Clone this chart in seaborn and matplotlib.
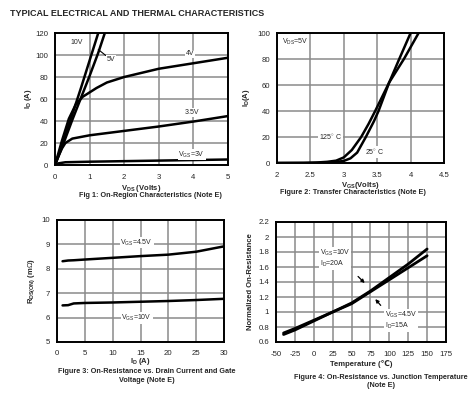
import matplotlib
matplotlib.use("Agg")
import matplotlib.pyplot as plt
import seaborn as sns

sns.set_style("white")
plt.rcParams['font.family'] = ['Liberation Sans', 'DejaVu Sans']
plt.rcParams['mathtext.fontset'] = 'custom'
plt.rcParams['mathtext.rm'] = 'Liberation Sans'
plt.rcParams['mathtext.it'] = 'Liberation Sans'
plt.rcParams['mathtext.bf'] = 'Liberation Sans:bold'
plt.rcParams['axes.unicode_minus'] = False

# ---------------- Data ----------------
# Fig 1: On-region characteristics
vds_10v = [0, 0.25, 0.5, 0.75, 1.0, 1.25]
id_10v = [0, 22, 46, 70, 95, 120]
vds_5v = [0, 0.25, 0.5, 0.75, 1.0, 1.25, 1.44]
id_5v = [0, 20, 41, 61, 81, 102, 120]
vds_4v = [0, 0.2, 0.4, 0.6, 0.8, 1.0, 1.2, 1.5, 2.0, 3.0, 4.0, 5.0]
id_4v = [0, 22, 42, 55, 62, 66, 70, 75, 80, 87.5, 92.5, 97.5]
vds_35v = [0, 0.1, 0.2, 0.3, 0.5, 1.0, 2.0, 3.0, 4.0, 5.0]
id_35v = [0, 8, 15, 20, 24, 27, 31, 35, 39.5, 44.5]
vds_3v = [0, 0.1, 0.3, 1.0, 2.0, 3.0, 4.0, 5.0]
id_3v = [0, 1.5, 2.5, 3.0, 3.5, 4.0, 4.5, 5.0]

# Fig 2: Transfer characteristics
vgs_25 = [2.0, 2.5, 2.7, 2.85, 3.0, 3.1, 3.2, 3.33, 3.45, 3.52, 3.68, 3.83, 4.0]
id_25 = [0, 0.05, 0.2, 0.6, 1.6, 3.6, 8, 20, 32, 40, 62, 80, 100]
vgs_125 = [2.0, 2.4, 2.6, 2.75, 2.885, 3.0, 3.12, 3.26, 3.37, 3.47, 3.68, 3.90, 4.12]
id_125 = [0, 0.1, 0.4, 0.9, 1.8, 4.3, 10, 20, 30, 40, 62, 80, 100]

# Fig 3: On-resistance vs drain current
id_r = [1, 2, 3, 5, 10, 15, 20, 25, 30]
rds_45v = [8.31, 8.34, 8.35, 8.38, 8.45, 8.52, 8.58, 8.70, 8.92]
rds_10v = [6.50, 6.51, 6.58, 6.60, 6.62, 6.65, 6.68, 6.72, 6.77]

# Fig 4: Normalized on-resistance vs temperature
temp = [-40, -25, 0, 25, 50, 75, 100, 125, 150]
rn_upper = [0.70, 0.76, 0.88, 1.00, 1.12, 1.28, 1.46, 1.64, 1.84]
rn_lower = [0.72, 0.78, 0.89, 1.00, 1.11, 1.27, 1.43, 1.59, 1.75]

# ---------------- Figure ----------------
W, H = 474, 395
fig = plt.figure(figsize=(W / 100, H / 100), dpi=100)

def px_axes(l, r, t, b):
    return fig.add_axes([l / W, (H - b) / H, (r - l) / W, (b - t) / H])

TICK = 5.6
LAB = 5.5
CAP = 5.2
ANN = 5.0
LW = 1.8
GRID = dict(color='#8a8a8a', linewidth=1.1)
BOX = dict(facecolor='white', edgecolor='none', pad=0.6)

def style(ax, xlim, ylim, xt, yt, xpad=6.5):
    ax.set_xlim(*xlim)
    ax.set_ylim(*ylim)
    ax.set_xticks(xt)
    ax.set_yticks(yt)
    ax.grid(True, **GRID)
    ax.set_axisbelow(True)
    for s in ax.spines.values():
        s.set_color('black')
        s.set_linewidth(1.4)
    ax.tick_params(axis='x', labelsize=TICK, length=0, pad=xpad)
    ax.tick_params(axis='y', labelsize=TICK, length=0, pad=5)

def labels(ax, xl, yl, l, r, t, b, xlab_y, ylab_x):
    ax.set_xlabel(xl, fontsize=LAB, fontweight='bold')
    ax.set_ylabel(yl, fontsize=LAB, fontweight='bold')
    ax.xaxis.set_label_coords(0.5, (b - xlab_y) / (b - t))
    ax.xaxis.label.set_va('center')
    ax.yaxis.set_label_coords((ylab_x - l) / (r - l), 0.5)
    ax.yaxis.label.set_va('center')

def curve(ax, x, y, lw=LW):
    sns.lineplot(x=x, y=y, ax=ax, color='black', linewidth=lw, sort=False, estimator=None)

fig.text(10 / W, 1 - 13 / H, 'TYPICAL ELECTRICAL AND THERMAL CHARACTERISTICS',
         fontsize=6.5, fontweight='bold', va='center', ha='left')

# Fig 1
ax1 = px_axes(55, 228, 33, 165)
style(ax1, (0, 5), (0, 120), [0, 1, 2, 3, 4, 5], [0, 20, 40, 60, 80, 100, 120])
for x, y in [(vds_10v, id_10v), (vds_5v, id_5v), (vds_4v, id_4v), (vds_35v, id_35v), (vds_3v, id_3v)]:
    curve(ax1, x, y)
ax1.text(0.64, 111, '10V', fontsize=ANN, ha='center', va='center', bbox=BOX)
ax1.text(1.62, 96, '5V', fontsize=ANN, ha='center', va='center', bbox=BOX)
ax1.plot([1.47, 1.25], [99.5, 105], color='black', linewidth=0.8)
ax1.text(3.9, 101, '4V', fontsize=ANN, ha='center', va='center', bbox=BOX)
ax1.text(3.95, 48, '3.5V', fontsize=ANN, ha='center', va='center', bbox=BOX)
ax1.text(3.95, 9.5, r'V$_{\mathregular{GS}}$=3V', fontsize=ANN, ha='center', va='center', bbox=BOX)
labels(ax1, r'V$_{\mathregular{DS}}$ (Volts)', r'I$_{\mathregular{D}}$ (A)', 55, 228, 33, 165, 188, 28)
fig.text(150 / W, 1 - 195.5 / H, 'Fig 1: On-Region Characteristics (Note E)',
         fontsize=CAP, fontweight='bold', ha='center', va='center')

# Fig 2
ax2 = px_axes(277, 444, 33, 163)
style(ax2, (2, 4.5), (0, 100), [2, 2.5, 3, 3.5, 4, 4.5], [0, 20, 40, 60, 80, 100])
ax2.set_xticklabels(['2', '2.5', '3', '3.5', '4', '4.5'])
curve(ax2, vgs_25, id_25)
curve(ax2, vgs_125, id_125)
ax2.text(2.07, 93.5, r'V$_{\mathregular{DS}}$=5V', fontsize=ANN, ha='left', va='center', bbox=BOX)
ax2.text(2.8, 20, '125$^{\\circ}$ C', fontsize=ANN, ha='center', va='center', bbox=BOX)
ax2.text(3.46, 8.5, '25$^{\\circ}$ C', fontsize=ANN, ha='center', va='center', bbox=BOX)
labels(ax2, r'V$_{\mathregular{GS}}$(Volts)', r'I$_{\mathregular{D}}$(A)', 277, 444, 33, 163, 185.5, 247)
fig.text(353 / W, 1 - 193 / H, 'Figure 2: Transfer Characteristics (Note E)',
         fontsize=CAP, fontweight='bold', ha='center', va='center')

# Fig 3
ax3 = px_axes(57, 224, 220, 342)
style(ax3, (0, 30), (5, 10), [0, 5, 10, 15, 20, 25, 30], [5, 6, 7, 8, 9, 10], xpad=5.5)
curve(ax3, id_r, rds_45v)
curve(ax3, id_r, rds_10v)
ax3.text(14.3, 9.08, r'V$_{\mathregular{GS}}$=4.5V', fontsize=ANN, ha='center', va='center', bbox=BOX)
ax3.text(14.3, 6.0, r'V$_{\mathregular{GS}}$=10V', fontsize=ANN, ha='center', va='center', bbox=BOX)
labels(ax3, r'I$_{\mathregular{D}}$ (A)', r'R$_{\mathregular{DS(ON)}}$ (m$\Omega$)', 57, 224, 220, 342, 361.5, 32)
fig.text(147 / W, 1 - 376 / H, 'Figure 3: On-Resistance vs. Drain Current and Gate\nVoltage (Note E)',
         fontsize=CAP, fontweight='bold', ha='center', va='center', linespacing=1.25)

# Fig 4
ax4 = px_axes(276, 446, 222, 342)
style(ax4, (-50, 175), (0.6, 2.2), [-50, -25, 0, 25, 50, 75, 100, 125, 150, 175],
      [0.6, 0.8, 1.0, 1.2, 1.4, 1.6, 1.8, 2.0, 2.2])
ax4.set_yticklabels(['0.6', '0.8', '1', '1.2', '1.4', '1.6', '1.8', '2', '2.2'])
curve(ax4, temp, rn_upper, lw=2.0)
curve(ax4, temp, rn_lower, lw=2.0)
ax4.text(8, 1.71, 'V$_{\\mathregular{GS}}$=10V\nI$_{\\mathregular{D}}$=20A', fontsize=ANN,
         ha='left', va='center', bbox=BOX, linespacing=1.15)
ax4.annotate('', xy=(70, 1.36), xytext=(56, 1.50),
             arrowprops=dict(arrowstyle='-|>', color='black', lw=0.9, mutation_scale=5))
ax4.text(94, 0.89, 'V$_{\\mathregular{GS}}$=4.5V\nI$_{\\mathregular{D}}$=15A', fontsize=ANN,
         ha='left', va='center', bbox=BOX, linespacing=1.15)
ax4.annotate('', xy=(79, 1.20), xytext=(91, 1.06),
             arrowprops=dict(arrowstyle='-|>', color='black', lw=0.9, mutation_scale=5))
labels(ax4, 'Temperature (℃)', 'Normalized On-Resistance', 276, 446, 222, 342, 364.5, 250)
fig.text(381 / W, 1 - 381.5 / H, 'Figure 4: On-Resistance vs. Junction Temperature\n(Note E)',
         fontsize=CAP, fontweight='bold', ha='center', va='center', linespacing=1.25)

fig.savefig('out.png', dpi=100, facecolor='white')
